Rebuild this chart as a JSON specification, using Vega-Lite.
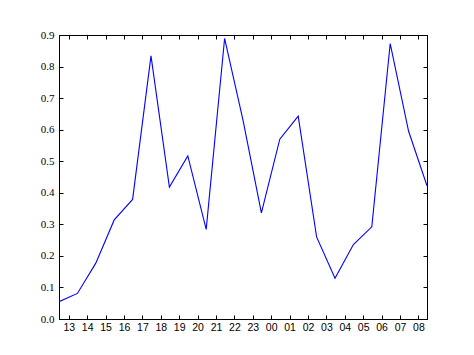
{
  "$schema": "https://vega.github.io/schema/vega-lite/v6.json",
  "width": 368,
  "height": 284,
  "autosize": "none",
  "padding": {"left": 59, "top": 35, "right": 47, "bottom": 36},
  "background": "white",
  "config": {
    "view": {"stroke": "black", "strokeWidth": 1},
    "axis": {"grid": false, "domainColor": "black", "tickColor": "black", "labelColor": "black", "domainWidth": 1, "tickWidth": 1}
  },
  "data": {
    "values": [
      {"t": "2013-01-01T12:28:00", "v": 0.055},
      {"t": "2013-01-01T13:28:00", "v": 0.081},
      {"t": "2013-01-01T14:28:00", "v": 0.177},
      {"t": "2013-01-01T15:28:00", "v": 0.314},
      {"t": "2013-01-01T16:28:00", "v": 0.379},
      {"t": "2013-01-01T17:28:00", "v": 0.834},
      {"t": "2013-01-01T18:28:00", "v": 0.418},
      {"t": "2013-01-01T19:28:00", "v": 0.517},
      {"t": "2013-01-01T20:28:00", "v": 0.284},
      {"t": "2013-01-01T21:28:00", "v": 0.889},
      {"t": "2013-01-01T22:28:00", "v": 0.63},
      {"t": "2013-01-01T23:28:00", "v": 0.336},
      {"t": "2013-01-02T00:28:00", "v": 0.57},
      {"t": "2013-01-02T01:28:00", "v": 0.643},
      {"t": "2013-01-02T02:28:00", "v": 0.26},
      {"t": "2013-01-02T03:28:00", "v": 0.129},
      {"t": "2013-01-02T04:28:00", "v": 0.236},
      {"t": "2013-01-02T05:28:00", "v": 0.292},
      {"t": "2013-01-02T06:28:00", "v": 0.873},
      {"t": "2013-01-02T07:28:00", "v": 0.595},
      {"t": "2013-01-02T08:28:00", "v": 0.422}
    ]
  },
  "layer": [
    {
      "mark": {"type": "line", "color": "#0000ff", "strokeWidth": 1.1, "clip": true},
      "encoding": {
        "x": {
          "field": "t", "type": "temporal", "title": null,
          "scale": {"nice": false},
          "axis": {"orient": "bottom", "format": "%H", "tickCount": 24, "tickSize": -4, "labelPadding": 7, "labelFont": "Liberation Sans", "labelFontSize": 10.5, "labelFlush": false, "labelOverlap": false}
        },
        "y": {
          "field": "v", "type": "quantitative", "title": null,
          "scale": {"domain": [0, 0.9], "nice": false},
          "axis": {"orient": "left", "values": [0, 0.1, 0.2, 0.3, 0.4, 0.5, 0.6, 0.7, 0.8, 0.9], "format": ".1f", "tickSize": -4, "labelPadding": 9, "labelFont": "Liberation Serif", "labelFontSize": 11, "labelFlush": false, "labelOverlap": false}
        }
      }
    },
    {
      "mark": {"type": "line", "strokeOpacity": 0},
      "encoding": {
        "x": {
          "field": "t", "type": "temporal", "title": null,
          "axis": {"orient": "top", "labels": false, "tickCount": 24, "tickSize": -4}
        },
        "y": {
          "field": "v", "type": "quantitative", "title": null,
          "axis": {"orient": "right", "labels": false, "values": [0, 0.1, 0.2, 0.3, 0.4, 0.5, 0.6, 0.7, 0.8, 0.9], "tickSize": -4}
        }
      }
    }
  ],
  "resolve": {"axis": {"x": "independent", "y": "independent"}}
}
